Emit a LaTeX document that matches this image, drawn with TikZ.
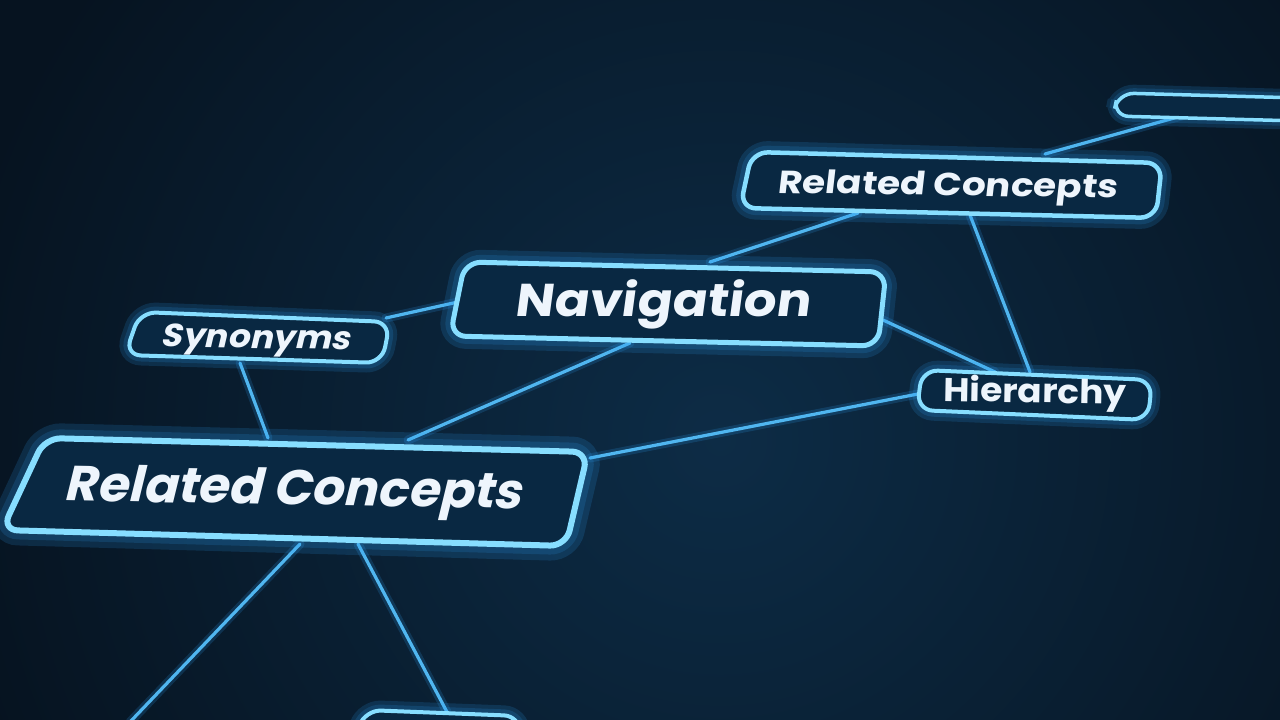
\documentclass[tikz,border=0pt]{standalone}
\usepackage{fontspec}
\newfontfamily\pf{Poppins}
\definecolor{bgA}{RGB}{6,19,32}
\definecolor{bgB}{RGB}{13,44,70}
\definecolor{boxfill}{RGB}{9,40,66}
\definecolor{edgecol}{RGB}{80,182,240}
\definecolor{rimcol}{RGB}{135,222,255}
\definecolor{glowcol}{RGB}{45,160,245}
\definecolor{txtcol}{RGB}{238,245,252}
\tikzset{
  link/.style={draw=edgecol, line width=3.2pt, line cap=round},
  linkglow/.style={draw=glowcol, line width=9pt, opacity=0.18, line cap=round},
  rim/.style={draw=rimcol, fill=boxfill, rounded corners=16pt},
  halo/.style={draw=glowcol, rounded corners=16pt, opacity=0.16},
  label/.style={text=txtcol, font=\pf\bfseries, inner sep=0pt, transform shape}
}
\newcommand\mmbox[5]{%
  \path[halo, line width=#5*5] (#1)--(#2)--(#3)--(#4)--cycle;
  \path[halo, line width=#5*3] (#1)--(#2)--(#3)--(#4)--cycle;
  \path[rim, line width=#5] (#1)--(#2)--(#3)--(#4)--cycle;}
\begin{document}
\begin{tikzpicture}[x=1pt,y=1pt]
\useasboundingbox (0,0) rectangle (1280,720);
\clip (0,0) rectangle (1280,720);
\fill[bgA] (0,0) rectangle (1280,720);
\shade[inner color=bgB, outer color=bgA] (720,280) circle (780);
% box corners (TL, TR, BR, BL)
\coordinate (bTL) at (45,282); \coordinate (bTR) at (588,268);
\coordinate (bBR) at (566,174); \coordinate (bBL) at (2,190);
\coordinate (sTL) at (140,408); \coordinate (sTR) at (390,398);
\coordinate (sBR) at (382,357); \coordinate (sBL) at (125,365);
\coordinate (nTL) at (465,458); \coordinate (nTR) at (886,448);
\coordinate (nBR) at (878,374); \coordinate (nBL) at (450,384);
\coordinate (tTL) at (752,568); \coordinate (tTR) at (1162,557);
\coordinate (tBR) at (1156,502); \coordinate (tBL) at (740,512);
\coordinate (hTL) at (922,350); \coordinate (hTR) at (1152,340);
\coordinate (hBR) at (1148,300); \coordinate (hBL) at (917,310);
\coordinate (mTL) at (1118,627); \coordinate (mTR) at (1300,622);
\coordinate (mBR) at (1300,599); \coordinate (mBL) at (1113,604);
\coordinate (pTL) at (365,10); \coordinate (pTR) at (520,4);
\coordinate (pBR) at (520,-60); \coordinate (pBL) at (340,-60);
% connector end points
\coordinate (syn-s) at (240,357); \coordinate (rc-n1) at (268,282);
\coordinate (syn-e) at (386,402); \coordinate (nav-w) at (458,418);
\coordinate (nav-s) at (630,377); \coordinate (rc-n2) at (408,280);
\coordinate (nav-n) at (710,458); \coordinate (top-s1) at (858,507);
\coordinate (nav-e) at (883,400); \coordinate (hier-n1) at (995,348);
\coordinate (top-s2) at (970,505); \coordinate (hier-n2) at (1030,348);
\coordinate (hier-w) at (918,326); \coordinate (rc-e) at (590,262);
\coordinate (top-n) at (1045,566); \coordinate (mini-s) at (1185,605);
\coordinate (rc-s1) at (300,176); \coordinate (off-1) at (130,-2);
\coordinate (rc-s2) at (358,176); \coordinate (part-n) at (447,8);
% connectors
\foreach \a/\b in {syn-s/rc-n1, syn-e/nav-w, nav-s/rc-n2, nav-n/top-s1,
  nav-e/hier-n1, top-s2/hier-n2, hier-w/rc-e, top-n/mini-s, rc-s1/off-1, rc-s2/part-n}{
  \draw[linkglow] (\a) -- (\b);
  \draw[link] (\a) -- (\b);
}
% boxes
\mmbox{bTL}{bTR}{bBR}{bBL}{6pt}
\mmbox{sTL}{sTR}{sBR}{sBL}{4pt}
\mmbox{nTL}{nTR}{nBR}{nBL}{5pt}
\mmbox{tTL}{tTR}{tBR}{tBL}{4.5pt}
\mmbox{hTL}{hTR}{hBR}{hBL}{4pt}
\mmbox{mTL}{mTR}{mBR}{mBL}{3.5pt}
\mmbox{pTL}{pTR}{pBR}{pBL}{4pt}
% labels
\node[label, font=\pf\bfseries\fontsize{49}{49}\selectfont, xscale=1.03, xslant=0.22, rotate=-1] (rcbig) at (295,227) {Related Concepts};
\node[label, font=\pf\bfseries\fontsize{46}{46}\selectfont, xscale=1.12, xslant=0.12] (nav) at (664,416) {Navigation};
\node[label, font=\pf\bfseries\fontsize{32}{32}\selectfont, xscale=1.08, xslant=0.2, rotate=-1] (syn) at (257,379) {Synonyms};
\node[label, font=\pf\bfseries\fontsize{32}{32}\selectfont, xscale=1.17, xslant=0.08, rotate=-1] (rctop) at (948,532) {Related Concepts};
\node[label, font=\pf\bfseries\fontsize{33}{33}\selectfont, xscale=1.09, rotate=-1] (hier) at (1035,326) {Hierarchy};
\end{tikzpicture}
\end{document}
